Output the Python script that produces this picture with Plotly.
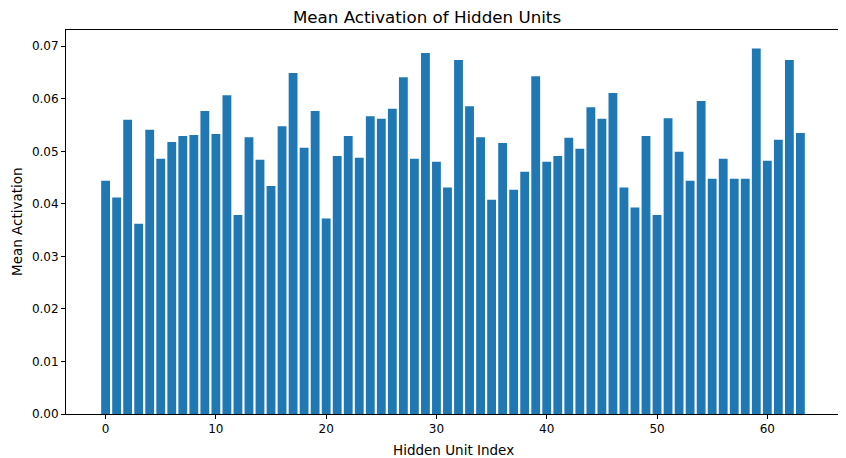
import plotly.graph_objects as go

# === Data ===
unit_index = list(range(64))
mean_activation = [
    0.0444, 0.0412, 0.0560, 0.0362, 0.0541, 0.0486, 0.0518, 0.0529,
    0.0531, 0.0577, 0.0533, 0.0607, 0.0379, 0.0527, 0.0484, 0.0434,
    0.0548, 0.0649, 0.0507, 0.0577, 0.0372, 0.0491, 0.0529, 0.0488,
    0.0567, 0.0562, 0.0581, 0.0641, 0.0486, 0.0687, 0.0480, 0.0431,
    0.0674, 0.0586, 0.0527, 0.0408, 0.0516, 0.0427, 0.0461, 0.0643,
    0.0480, 0.0491, 0.0526, 0.0505, 0.0584, 0.0562, 0.0611, 0.0431,
    0.0393, 0.0529, 0.0379, 0.0563, 0.0499, 0.0444, 0.0596, 0.0448,
    0.0486, 0.0448, 0.0448, 0.0696, 0.0482, 0.0522, 0.0674, 0.0535,
]
x_ticks = [0, 10, 20, 30, 40, 50, 60]
y_ticks = [0.00, 0.01, 0.02, 0.03, 0.04, 0.05, 0.06, 0.07]

fig = go.Figure()

fig.add_trace(go.Bar(
    x=unit_index,
    y=mean_activation,
    width=0.8,
    marker=dict(color="#1f77b4", line=dict(width=0)),
    showlegend=False,
))

axis_style = dict(
    showline=True, linecolor="black", linewidth=1, mirror=True,
    ticks="outside", ticklen=4, tickcolor="black",
    showgrid=False, zeroline=False, automargin=False,
    tickfont=dict(size=12, color="black"),
)

# page body has an 8px margin, so the figure is 8px smaller on each side
W, H = 838, 450
M = dict(l=58, r=6, t=22, b=44)
plot_w = W - M["l"] - M["r"]
plot_h = H - M["t"] - M["b"]

fig.update_layout(
    width=W, height=H,
    title=dict(text="Mean Activation of Hidden Units", x=0.5, xanchor="center",
               y=1 - 9.5 / H, yanchor="middle", font=dict(size=16.7, color="black")),
    font=dict(family="DejaVu Sans, sans-serif", color="black"),
    plot_bgcolor="white", paper_bgcolor="white",
    margin=M,
    xaxis=dict(axis_style, range=[-3.59, 66.59], tickvals=x_ticks),
    yaxis=dict(axis_style, range=[0, 0.0731], tickvals=y_ticks, tickformat=".2f"),
    bargap=0.2,
)

# axis titles placed as annotations so they sit where the reference has them
fig.add_annotation(text="Hidden Unit Index", xref="paper", yref="paper",
                   x=0.5, y=-(442 - (H - M["b"])) / plot_h,
                   xanchor="center", yanchor="middle", showarrow=False,
                   font=dict(size=13.5, color="black"))
fig.add_annotation(text="Mean Activation", xref="paper", yref="paper",
                   x=(9 - M["l"]) / plot_w, y=0.5, textangle=-90,
                   xanchor="center", yanchor="middle", showarrow=False,
                   font=dict(size=13.5, color="black"))

fig.write_html("out.html")
